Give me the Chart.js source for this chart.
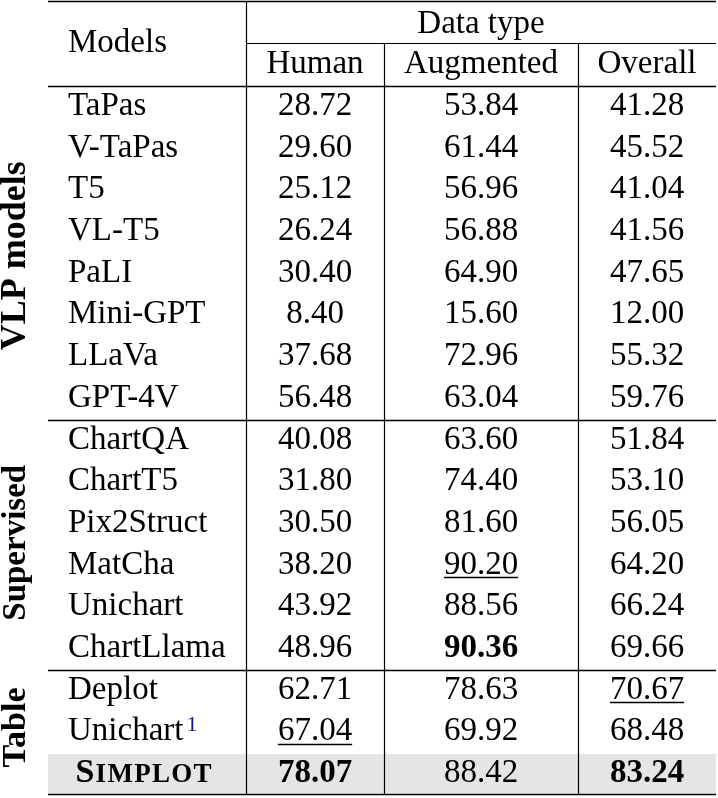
<!DOCTYPE html>
<html>
<head>
<meta charset="utf-8">
<script src="https://cdn.jsdelivr.net/npm/chart.js@4.4.1/dist/chart.umd.min.js"></script>
<style>
  html, body { margin: 0; padding: 0; background: #fff; }
  #wrap { width: 718px; height: 798px; position: relative; }
</style>
</head>
<body>
<div id="wrap"><canvas id="c" width="718" height="798"></canvas></div>
<script>
// ---------- data ----------
const models = ['TaPas','V-TaPas','T5','VL-T5','PaLI','Mini-GPT','LLaVa','GPT-4V',
                'ChartQA','ChartT5','Pix2Struct','MatCha','Unichart','ChartLlama',
                'Deplot','Unichart','Simplot'];
const groups = ['VLP models','Supervised','Table'];
const groupSizes = [8, 6, 3];
const columns = ['Human','Augmented','Overall'];
const headerGroup = 'Data type';
const headerModels = 'Models';
const human     = [28.72,29.60,25.12,26.24,30.40, 8.40,37.68,56.48,40.08,31.80,30.50,38.20,43.92,48.96,62.71,67.04,78.07];
const augmented = [53.84,61.44,56.96,56.88,64.90,15.60,72.96,63.04,63.60,74.40,81.60,90.20,88.56,90.36,78.63,69.92,88.42];
const overall   = [41.28,45.52,41.04,41.56,47.65,12.00,55.32,59.76,51.84,53.10,56.05,64.20,66.24,69.66,70.67,68.48,83.24];
const bestCells   = [[13,1],[16,0],[16,2]];   // [row, column] shown bold
const secondCells = [[11,1],[14,2],[15,0]];   // [row, column] shown underlined
const oursRow = 16;
const footnoteRow = 15;
const footnoteMark = '1';

// ---------- layout / style ----------
const colEdges = [48, 246, 384, 578, 716];   // x-scale units (table frame)
const FONT = '"Liberation Serif", "Times New Roman", serif';
const FS = 33;

const tablePlugin = {
  id: 'tablePlugin',
  beforeDraw(chart) {
    const ctx = chart.ctx;
    ctx.save();
    ctx.fillStyle = '#ffffff';
    ctx.fillRect(0, 0, chart.width, chart.height);
    ctx.restore();
  },
  afterDraw(chart) {
    const ctx = chart.ctx;
    const xs = chart.scales.x, ys = chart.scales.y;
    const X = v => xs.getPixelForValue(v);
    const rowH = Math.abs(ys.getPixelForValue(1) - ys.getPixelForValue(0));
    const rowC = i => ys.getPixelForValue(i);
    const top = chart.chartArea.top, bottom = chart.chartArea.bottom;
    const L = X(colEdges[0]), R = X(colEdges[4]);
    const colCenter = j => (X(colEdges[j + 1]) + X(colEdges[j + 2])) / 2;
    const series = [human, augmented, overall];
    const snap = v => Math.round(v) + 0.5;
    ctx.save();

    // shading of our row
    ctx.fillStyle = '#e5e5e5';
    ctx.fillRect(L, Math.round(rowC(oursRow) - rowH / 2) + 1, R - L, rowH - 2.5);

    // lines
    ctx.strokeStyle = '#000';
    const hline = (y, x1, x2, w) => {
      ctx.lineWidth = w; ctx.beginPath(); ctx.moveTo(x1, y); ctx.lineTo(x2, y); ctx.stroke();
    };
    const vline = (x, y1, y2, w) => {
      ctx.lineWidth = w; ctx.beginPath(); ctx.moveTo(x, y1); ctx.lineTo(x, y2); ctx.stroke();
    };
    const midHead = snap(top / 2 - 0.5);
    hline(1.5, L, R, 1.5);
    hline(midHead, X(colEdges[1]), R, 1.2);
    hline(snap(top), L, R, 1.4);
    let acc = 0;
    for (let g = 0; g < groupSizes.length - 1; g++) {
      acc += groupSizes[g];
      hline(snap(rowC(acc) - rowH / 2), L, R, 1.4);
    }
    hline(snap(bottom - 1.5), L, R, 1.5);
    vline(snap(X(colEdges[1])), 1, bottom - 1, 1.2);
    vline(snap(X(colEdges[2])), midHead, bottom - 1, 1.2);
    vline(snap(X(colEdges[3])), midHead, bottom - 1, 1.2);

    // header text
    ctx.fillStyle = '#000';
    ctx.textBaseline = 'alphabetic';
    ctx.font = `${FS}px ${FONT}`;
    ctx.textAlign = 'center';
    ctx.fillText(headerGroup, (X(colEdges[1]) + R) / 2, 33);
    columns.forEach((c, j) => ctx.fillText(c, colCenter(j), 73));
    ctx.textAlign = 'left';
    ctx.fillText(headerModels, X(68), 52);

    // body
    const isIn = (arr, r, c) => arr.some(a => a[0] === r && a[1] === c);
    models.forEach((m, i) => {
      const base = rowC(i) + 8;
      // model name
      if (i === oursRow) {
        const big = `bold 34px ${FONT}`, small = `bold 27px ${FONT}`;
        const first = m[0].toUpperCase(), rest = m.slice(1).toUpperCase().split('');
        const sp = 1.3;
        ctx.font = big; const w1 = ctx.measureText(first).width;
        ctx.font = small;
        const ws = rest.map(ch => ctx.measureText(ch).width);
        const total = w1 + ws.reduce((a, b) => a + b, 0) + sp * rest.length;
        const cx = (L + X(colEdges[1])) / 2 - 3.5;
        let x0 = cx - total / 2;
        ctx.textAlign = 'left';
        ctx.font = big; ctx.fillText(first, x0, base);
        x0 += w1 + sp;
        ctx.font = small;
        rest.forEach((ch, k) => { ctx.fillText(ch, x0, base); x0 += ws[k] + sp; });
      } else {
        ctx.font = `${FS}px ${FONT}`;
        ctx.textAlign = 'left';
        ctx.fillText(m, X(68), base);
        if (i === footnoteRow) {
          const w = ctx.measureText(m).width;
          ctx.font = `22px ${FONT}`;
          ctx.fillStyle = '#12128a';
          ctx.fillText(footnoteMark, X(68) + w + 3, base - 9.5);
          ctx.fillStyle = '#000';
        }
      }
      // values
      series.forEach((s, j) => {
        const txt = s[i].toFixed(2);
        const bold = isIn(bestCells, i, j);
        ctx.font = `${bold ? 'bold ' : ''}${FS}px ${FONT}`;
        ctx.textAlign = 'center';
        const cx = colCenter(j);
        ctx.fillText(txt, cx, base);
        if (isIn(secondCells, i, j)) {
          const w = ctx.measureText(txt).width;
          hline(snap(base + 3.5), cx - w / 2, cx + w / 2, 1.3);
        }
      });
    });

    // rotated group labels
    ctx.textAlign = 'center';
    ctx.textBaseline = 'alphabetic';
    const groupShift = [3, -2, -5];
    const groupFont = [36, 33, 34];
    let start = 0;
    groups.forEach((g, k) => {
      const endIdx = start + groupSizes[k] - 1;
      const cy = (rowC(start) + rowC(endIdx)) / 2 + groupShift[k];
      ctx.font = `bold ${groupFont[k]}px ${FONT}`;
      ctx.save();
      ctx.translate(25, cy);
      ctx.rotate(-Math.PI / 2);
      ctx.fillText(g, 0, 0);
      ctx.restore();
      start += groupSizes[k];
    });

    ctx.restore();
  }
};

new Chart(document.getElementById('c'), {
  type: 'scatter',
  data: { labels: models, datasets: [] },
  options: {
    responsive: false,
    animation: false,
    events: [],
    layout: { padding: { top: 86, bottom: 3, left: 0, right: 0 } },
    plugins: { legend: { display: false }, tooltip: { enabled: false } },
    scales: {
      x: { type: 'linear', min: 0, max: 718, display: false },
      y: { type: 'category', labels: models, offset: true, display: false }
    }
  },
  plugins: [tablePlugin]
});
</script>
</body>
</html>
